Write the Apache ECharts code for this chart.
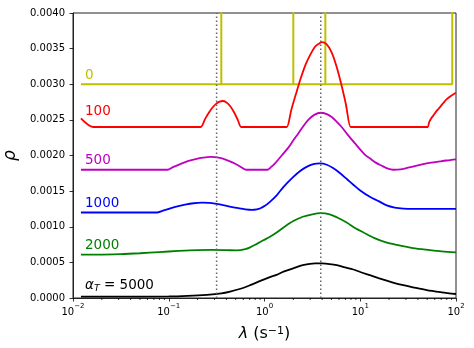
<!DOCTYPE html>
<html><head><meta charset="utf-8">
<script src="https://cdn.jsdelivr.net/npm/echarts@6/dist/echarts.min.js"></script>
<style>html,body{margin:0;padding:0;background:#fff}#c{width:474px;height:348px}</style>
</head><body><div id="c"></div>
<script>
// λ (s^-1), ρ pairs
const lambdaTicks = [0.01, 0.1, 1, 10, 100];
const yTicks = [0, 0.0005, 0.001, 0.0015, 0.002, 0.0025, 0.003, 0.0035, 0.004];
const minorTicks = [0.02,0.03,0.04,0.05,0.06,0.07,0.08,0.09,0.2,0.3,0.4,0.5,0.6,0.7,0.8,0.9,2,3,4,5,6,7,8,9,20,30,40,50,60,70,80,90];
const markerLines = [0.316, 3.87];

const alpha0 = [[0.0121,0.003],[0.354,0.003],[0.354,0.005],[0.354,0.003],[2.0,0.003],[2.0,0.005],[2.0,0.003],[4.32,0.003],[4.32,0.005],[4.32,0.003],[91.4,0.003],[91.4,0.005],[100,0.005]];
const alpha100 = [[0.0121,0.00252],[0.0162,0.0024],[0.0175,0.0024],[0.205,0.0024],[0.216,0.0024],[0.24,0.002514],[0.263,0.002603],[0.288,0.002677],[0.316,0.002731],[0.339,0.002756],[0.366,0.002765],[0.398,0.002748],[0.437,0.002695],[0.479,0.00261],[0.525,0.002503],[0.569,0.0024],[0.6,0.0024],[1.62,0.0024],[1.71,0.0024],[1.905,0.00264],[2.138,0.00287],[2.399,0.00309],[2.692,0.00328],[3.02,0.00342],[3.388,0.00353],[3.715,0.00357],[3.98,0.00359],[4.467,0.00356],[5.012,0.00345],[5.623,0.00326],[6.31,0.00301],[7.079,0.00272],[7.943,0.0024],[8.4,0.0024],[48,0.0024],[50.6,0.0024],[52.5,0.00247],[55,0.00252],[57.9,0.00256],[63.1,0.00263],[68.1,0.00268],[74.1,0.00274],[80,0.00279],[89.1,0.00284],[100,0.00288]];
const alpha500 = [[0.0121,0.0018],[0.091,0.0018],[0.0966,0.0018],[0.112,0.00184],[0.132,0.00188],[0.158,0.00192],[0.191,0.00195],[0.229,0.00197],[0.276,0.00198],[0.331,0.00197],[0.398,0.00194],[0.468,0.0019],[0.55,0.00185],[0.641,0.0018],[0.68,0.0018],[1.01,0.0018],[1.07,0.0018],[1.175,0.00184],[1.288,0.00189],[1.514,0.002],[1.774,0.00211],[1.995,0.00221],[2.254,0.00231],[2.512,0.0024],[2.864,0.0025],[3.311,0.00257],[3.864,0.0026],[4.467,0.00258],[5.035,0.00254],[5.623,0.00248],[6.397,0.0024],[7.413,0.00229],[8.81,0.00217],[11.22,0.00201],[12.6,0.00196],[14.5,0.0019],[16.6,0.00186],[19.1,0.00182],[22.1,0.0018],[26.3,0.001805],[31.6,0.00183],[39.8,0.00186],[49.4,0.00189],[63.1,0.00191],[79.4,0.00193],[100,0.001946]];
const alpha1000 = [[0.0121,0.0012],[0.07,0.0012],[0.0748,0.0012],[0.0871,0.001225],[0.1,0.00125],[0.117,0.00128],[0.148,0.00131],[0.182,0.00133],[0.221,0.001338],[0.263,0.001335],[0.316,0.00132],[0.38,0.0013],[0.447,0.00128],[0.537,0.00126],[0.631,0.001245],[0.741,0.001238],[0.832,0.001245],[0.908,0.00126],[1.0,0.00129],[1.14,0.00135],[1.34,0.00144],[1.58,0.00156],[2.0,0.0017],[2.34,0.00178],[2.75,0.00184],[3.24,0.00188],[3.8,0.00189],[4.47,0.00187],[5.25,0.00182],[6.17,0.00175],[7.24,0.00167],[8.47,0.00159],[10,0.00151],[12.6,0.00142],[15.5,0.00136],[18.9,0.0013],[22.9,0.00127],[28.2,0.001255],[35.5,0.00125],[100,0.00125]];
const alpha2000 = [[0.0121,0.000608],[0.02,0.00061],[0.0316,0.000615],[0.0501,0.000628],[0.0794,0.000645],[0.126,0.00066],[0.2,0.000672],[0.282,0.000675],[0.398,0.000672],[0.513,0.000668],[0.631,0.000685],[0.708,0.00071],[0.832,0.00076],[0.973,0.00081],[1.14,0.00086],[1.34,0.00092],[1.58,0.00099],[2.0,0.00108],[2.51,0.00114],[3.16,0.001175],[3.86,0.00119],[4.79,0.001175],[5.75,0.00113],[7.21,0.00106],[8.91,0.00098],[10.8,0.00092],[14.1,0.00084],[18.6,0.00078],[24,0.000745],[35.5,0.0007],[53.5,0.000672],[70.8,0.000655],[100,0.00064]];
const alpha5000 = [[0.0121,0.00002],[0.0316,0.00002],[0.1,0.000022],[0.158,0.00003],[0.251,0.000045],[0.355,0.000065],[0.437,0.00009],[0.562,0.00013],[0.708,0.00018],[0.908,0.00024],[1.12,0.00029],[1.34,0.000325],[1.58,0.00037],[2.0,0.000417],[2.51,0.00046],[3.37,0.000487],[3.98,0.000485],[4.79,0.000475],[5.68,0.00046],[6.92,0.00043],[8.47,0.0004],[10,0.000365],[12.6,0.00032],[15.5,0.00028],[18.9,0.000243],[22.9,0.00021],[28.2,0.00018],[35.5,0.00015],[49.4,0.00011],[70.8,0.00008],[100,0.000056]];

const FONT = 'DejaVu Sans';
const chart = echarts.init(document.getElementById('c'), null, {renderer: 'canvas'});

function lineSeries(data, color, width, smooth) {
  return {type: 'line', data: data, showSymbol: false, symbol: 'none', smooth: smooth,
    clip: true, lineStyle: {color: color, width: width || 1.8}, silent: true, z: 3};
}
const series = [
  lineSeries(alpha0, '#bfbf00', 2, false),
  lineSeries(alpha100, '#ff0000', 1.8, 0.3),
  lineSeries(alpha500, '#bf00bf', 1.8, 0.3),
  lineSeries(alpha1000, '#0000ff', 1.8, 0.3),
  lineSeries(alpha2000, '#008000', 1.8, 0.3),
  lineSeries(alpha5000, '#000000', 1.8, 0.3),
];
markerLines.forEach(function (x) {
  series.push({type: 'line', data: [[x, 0], [x, 0.004]], symbol: 'none', silent: true, z: 4,
    lineStyle: {color: '#666', width: 1.5, type: [1.5, 2.5]}});
});
series.push({
  type: 'custom', silent: true, z: 5, clip: false,
  data: minorTicks.map(function (v) { return [v, 0]; }),
  renderItem: function (params, api) {
    const p = api.coord([api.value(0), 0]);
    return {type: 'line', shape: {x1: p[0], y1: p[1], x2: p[0], y2: p[1] + 2},
      style: {stroke: '#000', lineWidth: 0.8}};
  }
});

function labelText(x, y, text, color, rich) {
  return {type: 'text', x: x, y: y, z: 10, silent: true,
    style: {text: text, fill: color, font: '13.5px "' + FONT + '"', verticalAlign: 'middle', rich: rich || undefined}};
}

chart.setOption({
  animation: false,
  backgroundColor: '#fff',
  grid: {left: 73, right: 18, top: 13, bottom: 50, containLabel: false, outerBoundsMode: 'none',
    show: true, borderColor: '#222', borderWidth: 1, backgroundColor: 'transparent'},
  xAxis: {
    type: 'log', logBase: 10, min: lambdaTicks[0], max: lambdaTicks[lambdaTicks.length - 1],
    name: '{i|λ} (s{s|−1})', nameLocation: 'middle', nameGap: 28,
    nameTextStyle: {fontFamily: FONT, fontSize: 16, color: '#000',
      rich: {i: {fontFamily: FONT, fontStyle: 'italic', fontSize: 16, color: '#000'},
             s: {fontFamily: FONT, fontSize: 11, verticalAlign: 'top', color: '#000'}}},
    axisLine: {lineStyle: {color: '#222', width: 1}},
    axisTick: {length: 3.5, inside: false, lineStyle: {color: '#000', width: 0.8}},
    splitLine: {show: false},
    axisLabel: {margin: 5, fontFamily: FONT, fontSize: 10, color: '#000',
      formatter: function (v) {
        const e = Math.round(Math.log10(v));
        return '{b|10}{s|' + (e < 0 ? '−' + (-e) : e) + '}';
      },
      rich: {b: {fontFamily: FONT, fontSize: 10, color: '#000', lineHeight: 14, verticalAlign: 'bottom'},
             s: {fontFamily: FONT, fontSize: 7, color: '#000', lineHeight: 14, verticalAlign: 'top'}}}
  },
  yAxis: {
    type: 'value', min: yTicks[0], max: yTicks[yTicks.length - 1], interval: 0.0005,
    name: 'ρ', nameLocation: 'middle', nameRotate: 90, nameGap: 44,
    nameTextStyle: {fontFamily: FONT, fontStyle: 'italic', fontSize: 17, color: '#000'},
    axisLine: {show: true, lineStyle: {color: '#222', width: 1}},
    axisTick: {show: true, length: 3.5, lineStyle: {color: '#000', width: 0.8}},
    splitLine: {show: false},
    axisLabel: {margin: 8, fontFamily: FONT, fontSize: 10, color: '#000',
      formatter: function (v) { return v.toFixed(4); }}
  },
  graphic: [
    labelText(85, 75, '0', '#bfbf00'),
    labelText(85, 111, '100', '#ff0000'),
    labelText(85, 160, '500', '#bf00bf'),
    labelText(85, 203, '1000', '#0000ff'),
    labelText(85, 245, '2000', '#008000'),
    labelText(85, 285, '{i|α}{sub|T} = 5000', '#000', {
      i: {fontFamily: FONT, fontStyle: 'italic', fontSize: 13.5, color: '#000', lineHeight: 18, verticalAlign: 'middle'},
      sub: {fontFamily: FONT, fontStyle: 'italic', fontSize: 9.5, color: '#000', lineHeight: 18, verticalAlign: 'bottom'}
    })
  ],
  series: series
});
</script></body></html>
